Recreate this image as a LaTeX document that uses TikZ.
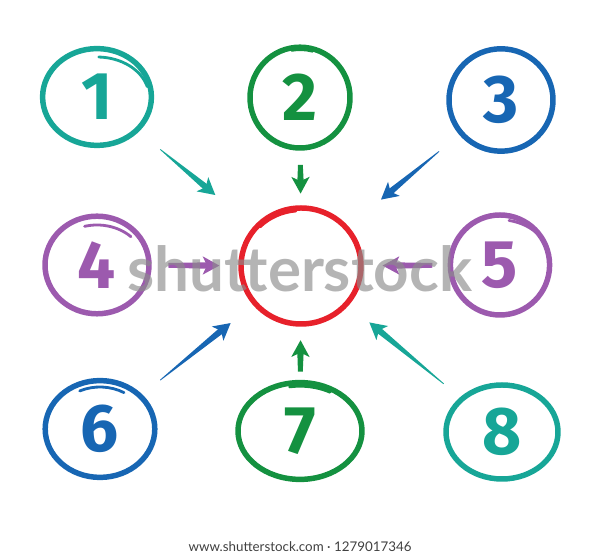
\documentclass[tikz,border=0pt]{standalone}
\usepackage{fontspec}
\setmainfont{Fira Sans}
\newfontfamily\markfont{Lato}
\usetikzlibrary{shapes.geometric,calc}
\definecolor{tealc}{HTML}{17A697}
\definecolor{greenc}{HTML}{149140}
\definecolor{bluec}{HTML}{1766B3}
\definecolor{purplec}{HTML}{9C5AAE}
\definecolor{redc}{HTML}{E7212B}
\newcommand\handarrow[6][0.01cm]{%
  \coordinate (ha-tail) at ($(#2)!#4!(#3)$);
  \coordinate (ha-tip) at ($(#2)!#5!(#3)$);
  \coordinate (ha-neck) at ($(ha-tip)!0.42cm!(ha-tail)$);
  \coordinate (ha-notch) at ($(ha-tip)!0.28cm!(ha-tail)$);
  \fill[#6] ($(ha-tail)!#1!90:(ha-tip)$) -- ($(ha-notch)!0.08cm!-90:(ha-tail)$)
     -- ($(ha-notch)!0.08cm!90:(ha-tail)$) -- ($(ha-tail)!#1!-90:(ha-tip)$) -- cycle;
  \fill[#6] (ha-tip) -- ($(ha-neck)!0.23cm!90:(ha-tail)$) -- ($(ha-tip)!0.31cm!(ha-tail)$)
     -- ($(ha-neck)!0.23cm!-90:(ha-tail)$) -- cycle;}
\begin{document}
\begin{tikzpicture}[
    ring/.style={ellipse, draw=#1, text=#1, line width=3.9pt, inner sep=0pt,
                 font=\fontsize{48}{48}\selectfont\bfseries},
    swash/.style={draw=#1, line width=2pt, line cap=round}]
  \useasboundingbox (0,0) rectangle (15,13.95);
  \node[ring=tealc, minimum width=2.72cm, minimum height=2.42cm] (c1) at (2.425,11.525) {1};
  \node[ring=greenc, minimum width=2.5cm, minimum height=2.52cm] (c2) at (7.5,11.51) {2};
  \node[ring=bluec, minimum width=2.6cm, minimum height=2.56cm] (c3) at (12.525,11.45) {3};
  \node[ring=purplec, minimum width=2.6cm, minimum height=2.44cm] (c4) at (2.425,7.325) {4};
  \node[ring=redc, minimum width=3.0cm, minimum height=2.9cm] (ctr) at (7.525,7.3) {};
  \node[ring=purplec, minimum width=2.48cm, minimum height=2.5cm] (c5) at (12.5,7.325) {5};
  \node[ring=bluec, minimum width=2.74cm, minimum height=2.42cm] (c6) at (2.5,3.225) {6};
  \node[ring=greenc, minimum width=3.1cm, minimum height=2.42cm] (c7) at (7.5,3.175) {7};
  \node[ring=tealc, minimum width=2.8cm, minimum height=2.35cm] (c8) at (12.55,3.15) {8};
  \draw[swash=tealc] ([shift={(15:1.3 and 1.0)}]c1.center) arc[start angle=15, end angle=88, x radius=1.3, y radius=1.0];
  \draw[swash=greenc] ([shift={(75:1.22 and 1.2)}]c2.center) arc[start angle=75, end angle=100, x radius=1.22, y radius=1.2];
  \draw[swash=purplec] ([shift={(45:1.2 and 1.0)}]c4.center) arc[start angle=45, end angle=105, x radius=1.2, y radius=1.0];
  \draw[swash=purplec] ([shift={(40:1.3 and 1.13)}]c5.center) arc[start angle=40, end angle=80, x radius=1.3, y radius=1.13];
  \draw[swash=bluec] ([shift={(60:1.2 and 1.05)}]c6.center) arc[start angle=60, end angle=115, x radius=1.2, y radius=1.05];
  \draw[swash=greenc] ([shift={(60:1.5 and 1.12)}]c7.center) arc[start angle=60, end angle=100, x radius=1.5, y radius=1.12];
  \draw[swash=redc] ([shift={(95:1.45 and 1.38)}]ctr.center) arc[start angle=95, end angle=135, x radius=1.45, y radius=1.38];
  \handarrow{c1}{ctr}{0.31}{0.58}{tealc}
  \handarrow[0.06cm]{c2}{ctr}{0.40}{0.57}{greenc}
  \handarrow{c3}{ctr}{0.31}{0.60}{bluec}
  \handarrow[0.06cm]{c4}{ctr}{0.35}{0.60}{purplec}
  \handarrow[0.06cm]{c5}{ctr}{0.34}{0.59}{purplec}
  \handarrow{c6}{ctr}{0.30}{0.65}{bluec}
  \handarrow[0.06cm]{c7}{ctr}{0.36}{0.55}{greenc}
  \handarrow{c8}{ctr}{0.29}{0.66}{tealc}
  \node[anchor=base, text=black!45, opacity=0.65, font=\markfont\bfseries\fontsize{44}{44}\selectfont] (wm) at (7.5,6.65) {shutterstock};
  \node[text=black!75, font=\markfont\fontsize{9.5}{11}\selectfont] (url) at (7.5,0.28) {www.shutterstock.com · 1279017346};
\end{tikzpicture}
\end{document}
